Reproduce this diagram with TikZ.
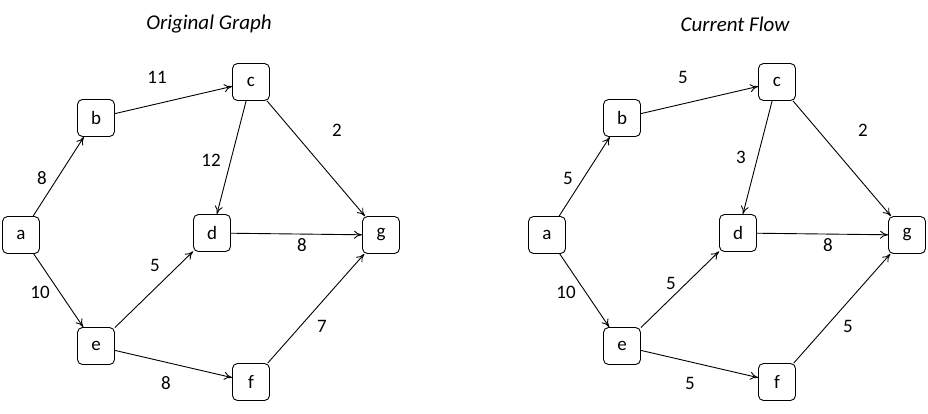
\documentclass[tikz,border=0pt]{standalone}
\usepackage{fontspec}
\setmainfont{Carlito}
\usetikzlibrary{arrows.meta}
\begin{document}
\begin{tikzpicture}[x=1pt,y=-1pt,
  vtx/.style={draw=black,line width=0.9pt,rounded corners=5pt,minimum width=37pt,minimum height=37pt,inner sep=0pt,font=\fontsize{19}{21}\selectfont},
  lbl/.style={font=\fontsize{19}{21}\selectfont},
  edge/.style={draw=black,-{To[length=8pt,width=8pt]},line width=0.9pt}]
\useasboundingbox (0,0) rectangle (928,413);
\node[font=\fontsize{21}{23}\selectfont\itshape] (t1) at (209,24) {Original Graph};
\node[font=\fontsize{21}{23}\selectfont\itshape] (t2) at (735,24) {Current Flow};
\foreach \p/\ox in {L/0,R/526}{
  \node[vtx] (a\p) at (21+\ox,235) {a};
  \node[vtx] (b\p) at (96+\ox,118) {b};
  \node[vtx] (c\p) at (251+\ox,82) {c};
  \node[vtx] (d\p) at (212+\ox,233) {d};
  \node[vtx] (g\p) at (381+\ox,235) {g};
  \node[vtx] (e\p) at (96+\ox,346) {e};
  \node[vtx] (f\p) at (251+\ox,382) {f};
  \draw[edge] (a\p) -- (b\p);
  \draw[edge] (b\p) -- (c\p);
  \draw[edge] (c\p) -- (d\p);
  \draw[edge] (c\p) -- (g\p);
  \draw[edge] (d\p) -- (g\p);
  \draw[edge] (a\p) -- (e\p);
  \draw[edge] (e\p) -- (d\p);
  \draw[edge] (e\p) -- (f\p);
  \draw[edge] (f\p) -- (g\p);
}
\node[lbl] (l1) at (157,77) {11};
\node[lbl] (l2) at (337,130) {2};
\node[lbl] (l3) at (211,160) {12};
\node[lbl] (l4) at (42,178) {8};
\node[lbl] (l5) at (40,292) {10};
\node[lbl] (l6) at (155,265) {5};
\node[lbl] (l7) at (302,245) {8};
\node[lbl] (l8) at (322,326) {7};
\node[lbl] (l9) at (166,383) {8};
\node[lbl] (r1) at (683,77) {5};
\node[lbl] (r2) at (863,130) {2};
\node[lbl] (r3) at (741,157) {3};
\node[lbl] (r4) at (568,178) {5};
\node[lbl] (r5) at (566,292) {10};
\node[lbl] (r6) at (671,283) {5};
\node[lbl] (r7) at (828,245) {8};
\node[lbl] (r8) at (848,326) {5};
\node[lbl] (r9) at (690,383) {5};
\end{tikzpicture}
\end{document}
